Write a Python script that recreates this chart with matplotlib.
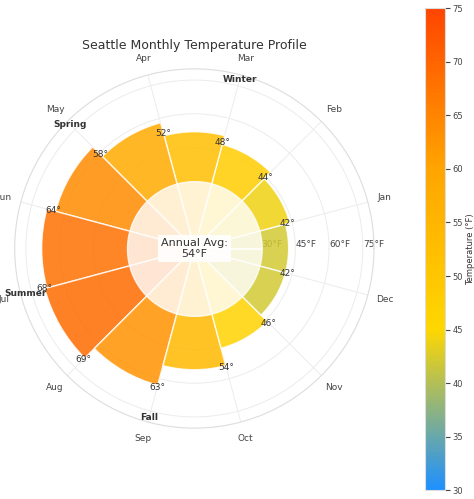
import numpy as np
import matplotlib
matplotlib.use('Agg')
import matplotlib.pyplot as plt
from matplotlib.colors import LinearSegmentedColormap, Normalize

months = ['Jan', 'Feb', 'Mar', 'Apr', 'May', 'Jun', 'Jul', 'Aug', 'Sep', 'Oct', 'Nov', 'Dec']
temps = [42, 44, 48, 52, 58, 64, 68, 69, 63, 54, 46, 42]
seasons = ['Winter', 'Spring', 'Summer', 'Fall']
season_months = [2, 4, 6, 8]  # Mar, May, Jul, Sep
annual_avg = 54

cmap = LinearSegmentedColormap.from_list('temp', ['#1E90FF', '#FFD700', '#FFA500', '#FF4500'])
norm = Normalize(30, 75)

fig = plt.figure(figsize=(4.74, 4.99), dpi=100)
ax = fig.add_axes([0.03, 0.142, 0.76, 0.72], projection='polar')
cax = fig.add_axes([0.897, 0.018, 0.042, 0.965])

n = len(months)
theta = np.linspace(0, 2 * np.pi, n, endpoint=False)
w = 2 * np.pi / n
ax.bar(theta, temps, width=w, bottom=0, color=cmap(norm(np.array(temps))),
       alpha=0.85, edgecolor='white', linewidth=1, zorder=2)

# inner white disc
circ = np.linspace(0, 2 * np.pi, 200)
ax.fill_between(circ, 0, 30, color='white', alpha=0.8, zorder=3)

for t, v in zip(theta, temps):
    ax.text(t + w / 2, v + 1, f'{v}°', ha='center', va='center', fontsize=6.5, color='#333333', zorder=5)

ax.set_xticks(theta + w / 2)
ax.set_xticklabels(months, fontsize=6.5, color='#444444')
ax.tick_params(axis='x', pad=2)
for s, m in zip(seasons, season_months):
    ax.text(theta[m] + w / 2, 78, s, ha='center', va='center', fontsize=6.5,
            fontweight='bold', color='#333333', zorder=5)

ax.set_ylim(0, 80)
ax.set_yticks([30, 45, 60, 75])
ax.set_yticklabels(['30°F', '45°F', '60°F', '75°F'], fontsize=6.5, color='#444444')
ax.set_rlabel_position(0)
ax.grid(color='#ececec', linewidth=0.7)
ax.spines['polar'].set_color('#dddddd')
ax.set_axisbelow(True)

ax.text(0, 0, f'Annual Avg:\n{annual_avg}°F', ha='center', va='center', fontsize=8,
        color='#333333', zorder=6, bbox=dict(facecolor='white', edgecolor='none', alpha=0.9, pad=2))
ax.set_title('Seattle Monthly Temperature Profile', fontsize=9, color='#333333', pad=14)

sm = plt.cm.ScalarMappable(norm=norm, cmap=cmap)
cb = fig.colorbar(sm, cax=cax)
cb.set_label('Temperature (°F)', fontsize=6, color='#333333', labelpad=2)
cb.ax.tick_params(labelsize=6, colors='#444444', pad=2)
cb.outline.set_edgecolor('#dddddd')

fig.savefig('out.png', dpi=100)
